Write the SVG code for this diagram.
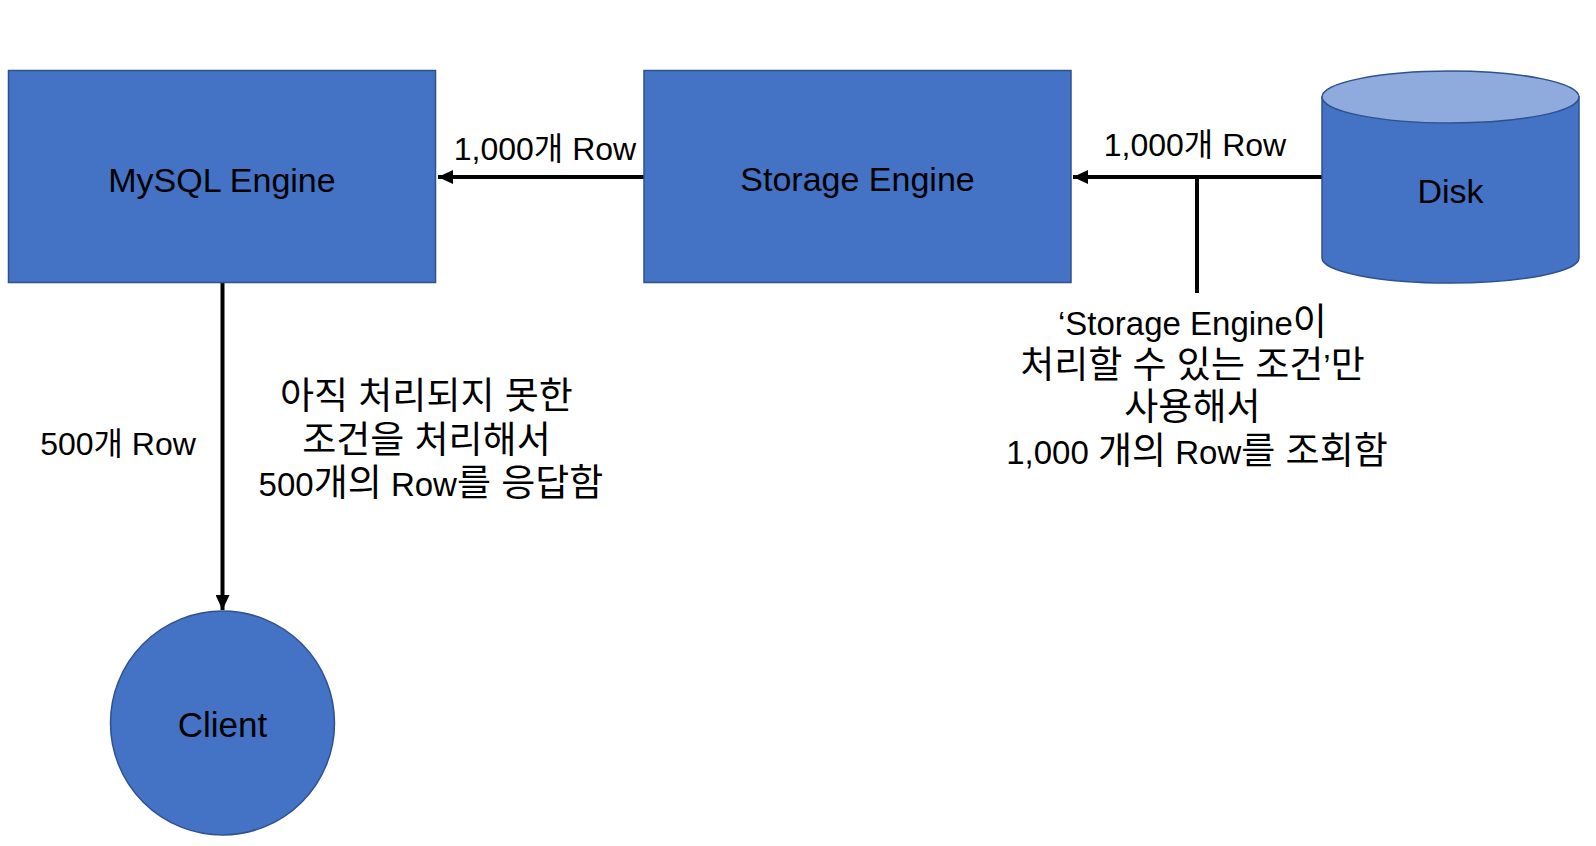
<svg xmlns="http://www.w3.org/2000/svg" width="1596" height="846" viewBox="0 0 1596 846">
  <style>
    .node { fill: #4472C4; stroke: #2F528F; stroke-width: 1.5; }
    .top { fill: #8FAADC; stroke: #2F528F; stroke-width: 1.5; }
    .lbl { font-family: "Liberation Sans", "Noto Sans CJK KR", sans-serif; fill: #000; text-anchor: middle; }
    .big { font-size: 34px; }
    .para { font-size: 33px; }
    .k { font-size: 37px; }
    .edge { stroke: #000; stroke-width: 4; fill: none; }
  </style>
  <defs>
    <marker id="arrow" markerUnits="userSpaceOnUse" markerWidth="16" markerHeight="14" refX="15" refY="7" orient="auto">
      <path d="M0,0 L15,7 L0,14 Z" fill="#000"/>
    </marker>
  </defs>
  <rect width="1596" height="846" fill="#fff"/>

  <g id="connectors">
    <line class="edge" x1="644" y1="177" x2="438" y2="177" marker-end="url(#arrow)"/>
    <line class="edge" x1="1322" y1="177" x2="1073" y2="177" marker-end="url(#arrow)"/>
    <line class="edge" x1="1197" y1="177" x2="1197" y2="293"/>
    <line class="edge" x1="222.5" y1="283" x2="222.5" y2="610" marker-end="url(#arrow)"/>
  </g>

  <g id="mysql-engine">
    <rect class="node" x="8.5" y="70.5" width="427" height="212"/>
    <text class="lbl big" x="222" y="192">MySQL Engine</text>
  </g>

  <g id="storage-engine">
    <rect class="node" x="644" y="70.5" width="427" height="212"/>
    <text class="lbl big" x="857.5" y="191">Storage Engine</text>
  </g>

  <g id="disk">
    <path class="node" d="M1322,97 L1579,97 L1579,258 A128.5,25 0 0 1 1322,258 Z"/>
    <ellipse class="top" cx="1450.5" cy="97" rx="128.5" ry="26"/>
    <text class="lbl big" x="1450.5" y="203">Disk</text>
  </g>

  <g id="client">
    <circle class="node" cx="222.5" cy="723" r="112"/>
    <text class="lbl big" x="222.5" y="737" style="font-size:35px">Client</text>
  </g>

  <g id="labels">
    <text class="lbl" style="font-size:32px" x="545" y="160">1,000개 Row</text>
    <text class="lbl" style="font-size:32px" x="1195" y="156">1,000개 Row</text>
    <text class="lbl" style="font-size:32px" x="118" y="455">500개 Row</text>
    <text class="lbl para">
      <tspan x="431" y="409" class="k">아직 처리되지 못한</tspan>
      <tspan x="431" y="453" class="k">조건을 처리해서</tspan>
      <tspan x="431" y="496">500<tspan class="k">개의</tspan> Row<tspan class="k">를 응답함</tspan></tspan>
    </text>
    <text class="lbl para">
      <tspan x="1197" y="335">‘Storage Engine<tspan class="k">이</tspan></tspan>
      <tspan x="1197" y="378"><tspan class="k">처리할 수 있는 조건</tspan>’<tspan class="k">만</tspan></tspan>
      <tspan x="1197" y="420" class="k">사용해서</tspan>
      <tspan x="1197" y="464">1,000 <tspan class="k">개의</tspan> Row<tspan class="k">를 조회함</tspan></tspan>
    </text>
  </g>
</svg>
